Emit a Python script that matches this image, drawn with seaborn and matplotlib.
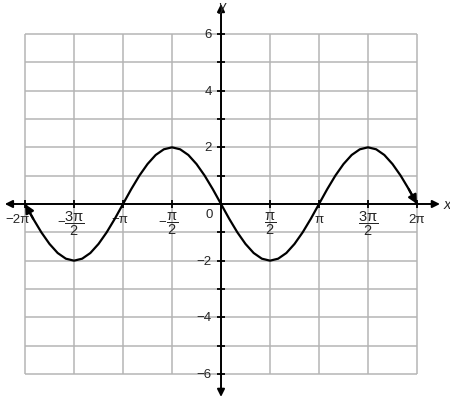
import numpy as np
import matplotlib.pyplot as plt
import seaborn as sns

sns.set_theme(style="white")
plt.rcParams['font.family'] = ['Liberation Sans', 'DejaVu Sans']
plt.rcParams['mathtext.fontset'] = 'custom'
plt.rcParams['mathtext.rm'] = 'Liberation Sans'
plt.rcParams['mathtext.it'] = 'Liberation Sans'

# ---------- data ----------
# x sampled every pi/12 from -2pi to 2pi (step index), y = curve height
x_steps = list(range(-24, 25))
y_vals = [0, -0.52, -1.0, -1.41, -1.73, -1.93, -2.0, -1.93, -1.73, -1.41, -1.0, -0.52,
          0, 0.52, 1.0, 1.41, 1.73, 1.93, 2.0, 1.93, 1.73, 1.41, 1.0, 0.52,
          0, -0.52, -1.0, -1.41, -1.73, -1.93, -2.0, -1.93, -1.73, -1.41, -1.0, -0.52,
          0, 0.52, 1.0, 1.41, 1.73, 1.93, 2.0, 1.93, 1.73, 1.41, 1.0, 0.52, 0]

x_halfpi = [-4, -3, -2, -1, 0, 1, 2, 3, 4]
x_labels = ['−2π', r'$\dfrac{3\pi}{2}$', '−π', r'$\dfrac{\pi}{2}$', '0',
            r'$\dfrac{\pi}{2}$', 'π', r'$\dfrac{3\pi}{2}$', '2π']
y_grid = list(range(-6, 7))
y_labels = [6, 4, 2, -2, -4, -6]

x = np.array(x_steps) * np.pi / 12
y = np.array(y_vals)
xg = np.array(x_halfpi) * np.pi / 2

fig = plt.figure(figsize=(4.5, 4.02), dpi=100)
ax = fig.add_axes([0, 0, 1, 1])
ax.set_xlim(-7.085, 7.341)
ax.set_ylim(-6.953, 7.235)
ax.axis('off')

# grid
grid_col = '#b5b5b5'
ax.vlines(xg, -6, 6, color=grid_col, lw=1.1, zorder=1)
ax.hlines(y_grid, xg[0], xg[-1], color=grid_col, lw=1.1, zorder=1)

# axes with arrows
arr = dict(arrowstyle='<|-|>', color='black', lw=1.4, mutation_scale=11,
           shrinkA=0, shrinkB=0)
ax.annotate('', xy=(7.02, 0), xytext=(-6.93, 0), arrowprops=arr, zorder=3)
ax.annotate('', xy=(0, 7.06), xytext=(0, -6.81), arrowprops=arr, zorder=3)

# tick marks
ax.hlines([v for v in y_grid if v != 0], -0.13, 0.13, color='black', lw=1.3, zorder=3)
ax.vlines([v for v in xg if v != 0], -0.14, 0.14, color='black', lw=1.3, zorder=3)

# curve
sns.lineplot(x=x, y=y, ax=ax, color='black', lw=1.6, sort=False, zorder=4)
end = dict(arrowstyle='-|>', color='black', lw=1.6, mutation_scale=13,
           shrinkA=0, shrinkB=0)
ax.annotate('', xy=(x[0], y[0]), xytext=(x[1], y[1]), arrowprops=end, zorder=5)
ax.annotate('', xy=(x[-1], y[-1]), xytext=(x[-2], y[-2]), arrowprops=end, zorder=5)

# y tick labels
for v in y_labels:
    ax.text(-0.3, v, f'{v}'.replace('-', '−'), ha='right', va='center', fontsize=9.5)

# x tick labels
for pos, lab in zip(xg, x_labels):
    if pos == 0:
        ax.text(-0.26, -0.37, lab, ha='right', va='center', fontsize=9.5)
    elif 'dfrac' in lab:
        ax.text(pos, -0.67, lab, ha='center', va='center', fontsize=10.5)
        if pos < 0:
            half = 0.3 if '3' in lab else 0.2
            ax.text(pos - half, -0.64, '−', ha='right', va='center', fontsize=9.5)
    elif pos < 0:
        ax.text(pos + 0.16, -0.53, lab, ha='right', va='center', fontsize=9.5)
    else:
        ax.text(pos, -0.53, lab, ha='center', va='center', fontsize=9.5)

ax.text(7.25, 0, 'x', ha='center', va='center', fontsize=10.5, style='italic')
ax.text(0.04, 7.0, 'y', ha='center', va='center', fontsize=10, style='italic')

plt.savefig('out.png', dpi=100)
